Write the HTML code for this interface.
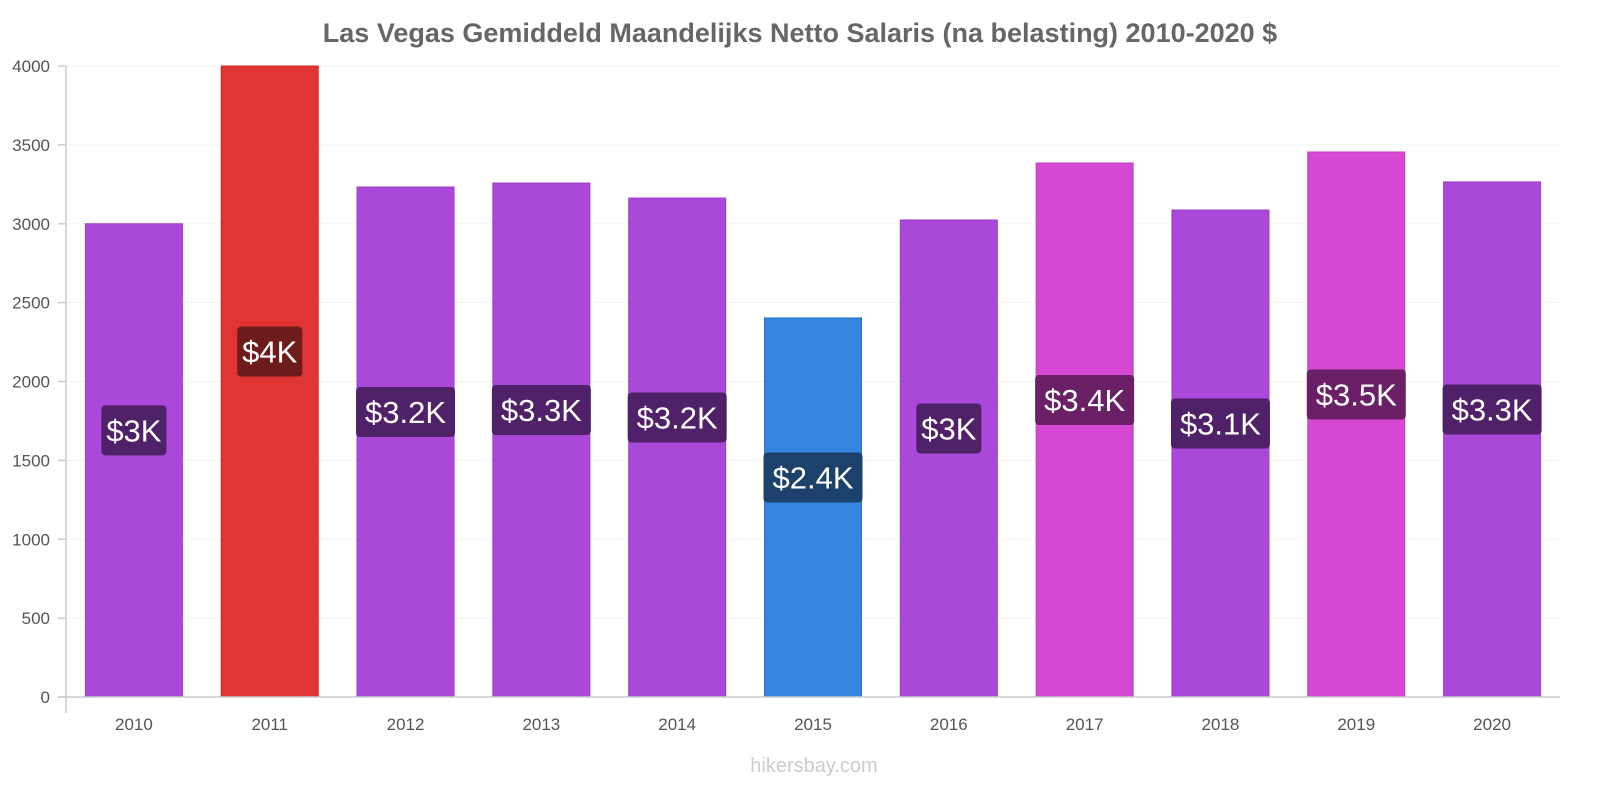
<!DOCTYPE html>
<html><head><meta charset="utf-8">
<style>
html,body{margin:0;padding:0;background:#fff;}
body{width:1600px;height:800px;overflow:hidden;font-family:"Liberation Sans",sans-serif;}
</style></head>
<body>
<svg id="chart" width="1600" height="800" xmlns="http://www.w3.org/2000/svg">
<text x="800" y="42" text-anchor="middle" font-size="27" font-weight="bold" fill="#666" font-family="Liberation Sans, sans-serif">Las Vegas Gemiddeld Maandelijks Netto Salaris (na belasting) 2010-2020 $</text>
<g id="grid"></g>
<g id="bars"></g>
<g id="labels"></g>
<line x1="66" y1="66" x2="66" y2="713" stroke="#ccc" stroke-width="1.5"/>
<line x1="58" y1="697" x2="1560" y2="697" stroke="#ccc" stroke-width="1.5"/>
<text x="814" y="772" text-anchor="middle" font-size="20" fill="#ccc" font-family="Liberation Sans, sans-serif">hikersbay.com</text>
</svg>
<script>
const categories = ["2010","2011","2012","2013","2014","2015","2016","2017","2018","2019","2020"];
const values = [3000,4000,3233,3258,3163,2403,3024,3385,3087,3455,3265];
const valueLabels = ["$3K","$4K","$3.2K","$3.3K","$3.2K","$2.4K","$3K","$3.4K","$3.1K","$3.5K","$3.3K"];
const yTicks = [0,500,1000,1500,2000,2500,3000,3500,4000];

const NS="http://www.w3.org/2000/svg";
const x0=66,x1=1560,yBase=697,yTop=66,yMax=4000;
const bw=(x1-x0)/categories.length;
function y(v){return yBase-(v/yMax)*(yBase-yTop);}
function xc(i){return x0+bw*(i+0.5);}
function mk(tag,attrs,parent){const e=document.createElementNS(NS,tag);for(const k in attrs)e.setAttribute(k,attrs[k]);parent.appendChild(e);return e;}
const grid=document.getElementById('grid'),bars=document.getElementById('bars'),labels=document.getElementById('labels');
yTicks.forEach(t=>{
  const l=mk('line',{x1:x0,x2:x1,y1:y(t),y2:y(t),stroke:'#f3f3f3','stroke-width':1},grid);
  
  
  const tk=mk('line',{x1:58,x2:66,y1:y(t),y2:y(t),stroke:'#ccc','stroke-width':1.5},grid);
  
  
  const tx=mk('text',{x:50,y:y(t)+6,'text-anchor':'end','font-size':17,fill:'#555'},grid);
  tx.textContent=t;
  
  
});
const mx=Math.max(...values),mn=Math.min(...values);
values.forEach((v,i)=>{
  let fill='#a948d9',stroke='#9a3dc8',dark='#4f2168';
  if(v===mx){fill='#e03532';stroke='#c92a27';dark='#6e1b1b';}
  else if(v===mn){fill='#3584e0';stroke='#2a72c8';dark='#1c416b';}
  else if(v>3300){fill='#d548d1';stroke='#c23cbe';dark='#6a2067';}
  const cx=xc(i),w=97;
  const r=mk('rect',{x:cx-w/2,y:y(v),width:w,height:yBase-y(v),fill:fill,stroke:stroke,'stroke-width':1},bars);
  
  
  const xl=mk('text',{x:cx,y:730,'text-anchor':'middle','font-size':17,fill:'#555'},labels);
  xl.textContent=categories[i];
  
  
  const ly=(y(v)+yBase)/2-30;
  const txt=valueLabels[i];
  const lw=txt.length*17+14;
  const bg=mk('rect',{x:cx-lw/2,y:ly-25,width:lw,height:50,rx:4,fill:dark},labels);
  
  
  const t=mk('text',{x:cx,y:ly+11,'text-anchor':'middle','font-size':31,fill:'#fff'},labels);
  t.textContent=txt;
  
  
});
</script>
</body></html>
